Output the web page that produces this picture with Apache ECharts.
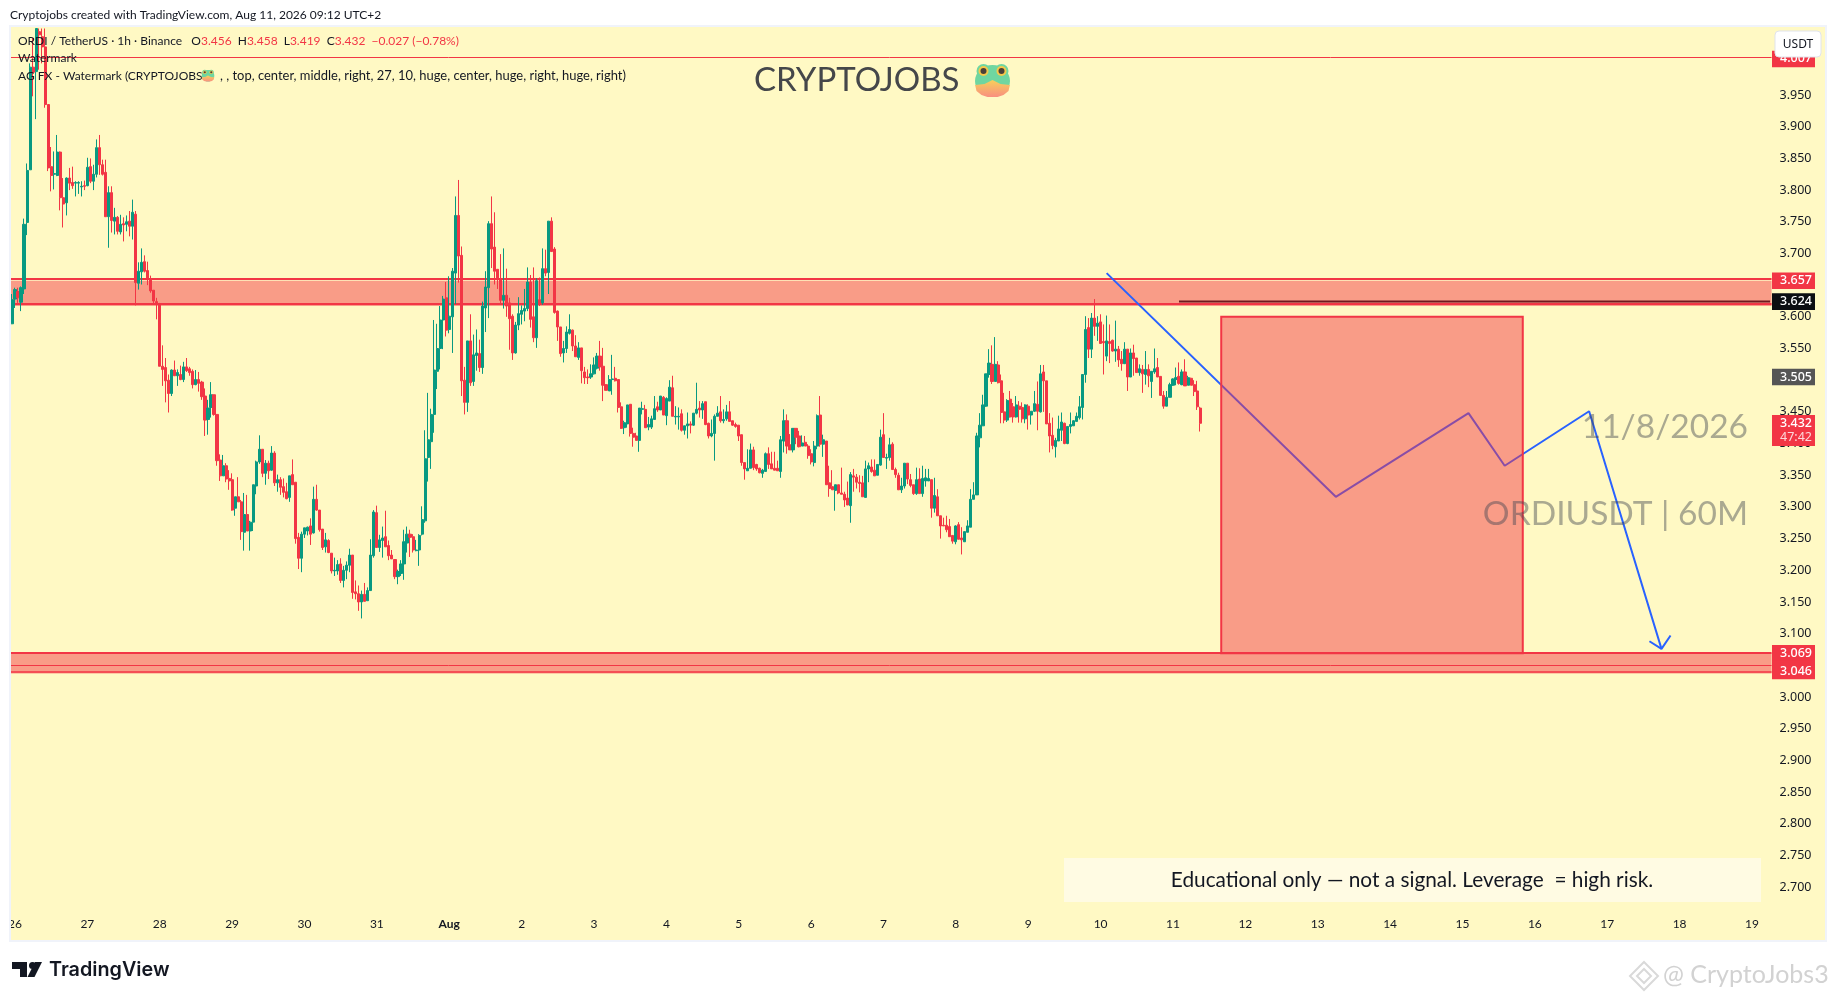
<!DOCTYPE html>
<html><head><meta charset="utf-8"><title>ORDIUSDT</title>
<style>html,body{margin:0;padding:0;background:#fff}#c{width:1835px;height:1000px}</style>
<script src="https://cdn.jsdelivr.net/npm/echarts@6/dist/echarts.min.js"></script></head><body><div id="c"></div>
<script>
// hourly candles as [open, high, low, close]
const jul25=[[3.589,3.636,3.589,3.627]];
const jul26=[[3.628,3.646,3.614,3.643],[3.640,3.646,3.622,3.630],[3.623,3.648,3.609,3.646],[3.644,3.755,3.636,3.746],[3.749,3.842,3.729,3.831],[3.832,4.000,3.832,3.994],[3.994,4.040,3.948,3.986],[3.987,4.055,3.912,4.055],[4.050,4.055,3.990,4.045],[4.042,4.055,4.000,4.026],[4.026,4.055,3.930,3.935],[3.935,3.935,3.830,3.835],[3.837,3.868,3.798,3.823],[3.825,3.861,3.801,3.826],[3.823,3.887,3.822,3.860],[3.860,3.861,3.768,3.788],[3.788,3.819,3.741,3.778],[3.780,3.820,3.760,3.819],[3.819,3.835,3.800,3.811],[3.812,3.837,3.802,3.807],[3.811,3.814,3.790,3.812],[3.811,3.814,3.794,3.812],[3.805,3.814,3.790,3.806],[3.807,3.815,3.800,3.806]];
const jul27=[[3.807,3.851,3.806,3.836],[3.837,3.850,3.811,3.814],[3.814,3.840,3.800,3.825],[3.825,3.880,3.820,3.867],[3.867,3.887,3.824,3.840],[3.840,3.848,3.823,3.825],[3.828,3.848,3.758,3.758],[3.758,3.806,3.709,3.796],[3.796,3.806,3.733,3.752],[3.751,3.772,3.730,3.757],[3.757,3.759,3.730,3.735],[3.734,3.761,3.730,3.746],[3.747,3.757,3.719,3.745],[3.746,3.760,3.735,3.750],[3.751,3.767,3.727,3.743],[3.743,3.785,3.722,3.765],[3.762,3.767,3.618,3.654],[3.653,3.686,3.643,3.672],[3.671,3.708,3.651,3.686],[3.687,3.697,3.670,3.672],[3.673,3.687,3.650,3.659],[3.658,3.665,3.638,3.641],[3.642,3.642,3.620,3.625],[3.624,3.630,3.596,3.620]];
const jul28=[[3.620,3.622,3.522,3.522],[3.522,3.555,3.491,3.517],[3.520,3.535,3.465,3.499],[3.500,3.509,3.449,3.479],[3.479,3.517,3.475,3.516],[3.516,3.531,3.507,3.507],[3.507,3.517,3.491,3.512],[3.509,3.523,3.500,3.501],[3.501,3.529,3.497,3.521],[3.521,3.535,3.513,3.515],[3.518,3.521,3.507,3.512],[3.514,3.517,3.487,3.493],[3.493,3.516,3.492,3.501],[3.501,3.513,3.482,3.495],[3.497,3.499,3.469,3.474],[3.475,3.487,3.412,3.437],[3.438,3.469,3.414,3.456],[3.457,3.497,3.441,3.477],[3.477,3.477,3.444,3.446],[3.446,3.446,3.365,3.373],[3.374,3.383,3.341,3.349],[3.349,3.382,3.349,3.365],[3.365,3.369,3.339,3.344],[3.345,3.358,3.327,3.341]];
const jul29=[[3.343,3.353,3.294,3.295],[3.298,3.316,3.286,3.316],[3.316,3.347,3.308,3.308],[3.308,3.311,3.248,3.261],[3.260,3.322,3.231,3.288],[3.288,3.319,3.262,3.262],[3.262,3.278,3.231,3.276],[3.276,3.335,3.262,3.335],[3.333,3.373,3.320,3.371],[3.371,3.413,3.368,3.391],[3.391,3.391,3.347,3.353],[3.353,3.374,3.335,3.369],[3.369,3.373,3.344,3.357],[3.358,3.396,3.357,3.385],[3.385,3.388,3.333,3.338],[3.338,3.351,3.324,3.343],[3.343,3.347,3.319,3.331],[3.332,3.345,3.315,3.323],[3.324,3.338,3.312,3.313],[3.315,3.349,3.308,3.349],[3.351,3.375,3.335,3.335],[3.339,3.339,3.242,3.250],[3.252,3.259,3.202,3.219],[3.219,3.261,3.197,3.257]];
const jul30=[[3.257,3.267,3.251,3.267],[3.262,3.269,3.255,3.268],[3.270,3.282,3.240,3.257],[3.259,3.332,3.258,3.312],[3.312,3.335,3.294,3.295],[3.295,3.295,3.261,3.264],[3.265,3.265,3.232,3.236],[3.237,3.259,3.228,3.248],[3.247,3.249,3.227,3.228],[3.227,3.227,3.195,3.199],[3.199,3.220,3.191,3.200],[3.199,3.216,3.193,3.209],[3.210,3.219,3.180,3.184],[3.184,3.207,3.173,3.200],[3.200,3.214,3.186,3.208],[3.208,3.234,3.197,3.224],[3.224,3.224,3.155,3.165],[3.166,3.184,3.154,3.163],[3.163,3.176,3.136,3.150],[3.150,3.168,3.124,3.162],[3.162,3.180,3.151,3.151],[3.152,3.173,3.152,3.168],[3.168,3.249,3.168,3.224],[3.223,3.295,3.220,3.292]];
const jul31=[[3.291,3.302,3.236,3.236],[3.236,3.256,3.229,3.248],[3.247,3.269,3.220,3.251],[3.253,3.294,3.237,3.237],[3.239,3.247,3.216,3.223],[3.224,3.232,3.218,3.218],[3.217,3.217,3.186,3.190],[3.190,3.201,3.178,3.198],[3.195,3.216,3.191,3.210],[3.210,3.264,3.185,3.245],[3.243,3.269,3.228,3.257],[3.257,3.264,3.221,3.252],[3.253,3.257,3.228,3.232],[3.231,3.248,3.230,3.232],[3.232,3.257,3.207,3.255],[3.257,3.301,3.255,3.280],[3.278,3.421,3.275,3.376],[3.378,3.480,3.340,3.406],[3.403,3.455,3.360,3.446],[3.446,3.595,3.417,3.516],[3.514,3.589,3.486,3.550],[3.550,3.617,3.517,3.595],[3.595,3.633,3.549,3.628],[3.630,3.655,3.569,3.579]];
const aug1=[[3.580,3.664,3.574,3.601],[3.600,3.677,3.543,3.672],[3.669,3.790,3.620,3.760],[3.760,3.816,3.654,3.696],[3.697,3.711,3.475,3.499],[3.500,3.521,3.446,3.465],[3.465,3.562,3.450,3.562],[3.562,3.604,3.491,3.496],[3.498,3.572,3.491,3.540],[3.539,3.580,3.515,3.543],[3.542,3.564,3.513,3.520],[3.520,3.624,3.510,3.617],[3.614,3.672,3.576,3.647],[3.646,3.751,3.598,3.747],[3.747,3.790,3.677,3.707],[3.710,3.765,3.651,3.672],[3.675,3.675,3.644,3.659],[3.659,3.699,3.619,3.626],[3.626,3.708,3.613,3.634],[3.634,3.676,3.600,3.617],[3.622,3.630,3.548,3.597],[3.601,3.604,3.532,3.543],[3.543,3.592,3.542,3.587],[3.587,3.631,3.579,3.605]];
const aug2=[[3.604,3.618,3.588,3.610],[3.609,3.644,3.593,3.613],[3.613,3.678,3.609,3.655],[3.655,3.666,3.583,3.596],[3.600,3.678,3.560,3.567],[3.567,3.661,3.551,3.657],[3.627,3.662,3.617,3.620],[3.622,3.708,3.619,3.676],[3.676,3.706,3.664,3.669],[3.670,3.751,3.636,3.751],[3.751,3.757,3.703,3.703],[3.707,3.710,3.605,3.607],[3.609,3.610,3.562,3.584],[3.584,3.584,3.537,3.542],[3.543,3.562,3.528,3.550],[3.550,3.585,3.543,3.576],[3.574,3.604,3.572,3.580],[3.579,3.580,3.546,3.554],[3.554,3.571,3.537,3.537],[3.536,3.560,3.532,3.551],[3.551,3.551,3.495,3.515],[3.513,3.521,3.494,3.504],[3.505,3.517,3.494,3.504],[3.505,3.525,3.502,3.510]];
const aug3=[[3.510,3.536,3.509,3.524],[3.519,3.543,3.517,3.538],[3.538,3.562,3.515,3.521],[3.522,3.551,3.467,3.492],[3.493,3.493,3.484,3.484],[3.483,3.508,3.483,3.501],[3.501,3.540,3.477,3.502],[3.503,3.521,3.498,3.499],[3.501,3.501,3.449,3.457],[3.458,3.465,3.423,3.424],[3.425,3.436,3.415,3.433],[3.431,3.461,3.425,3.461],[3.462,3.462,3.411,3.416],[3.416,3.425,3.395,3.410],[3.412,3.417,3.405,3.405],[3.405,3.456,3.387,3.456],[3.454,3.466,3.446,3.455],[3.454,3.461,3.425,3.425],[3.426,3.442,3.421,3.430],[3.426,3.444,3.423,3.439],[3.438,3.475,3.438,3.455],[3.458,3.466,3.450,3.453],[3.453,3.475,3.453,3.475],[3.473,3.475,3.445,3.445]];
const aug4=[[3.444,3.473,3.429,3.471],[3.467,3.500,3.467,3.489],[3.488,3.507,3.443,3.443],[3.442,3.459,3.430,3.443],[3.442,3.457,3.422,3.443],[3.447,3.454,3.419,3.421],[3.421,3.428,3.414,3.428],[3.428,3.449,3.408,3.431],[3.431,3.435,3.416,3.429],[3.429,3.448,3.428,3.448],[3.448,3.496,3.446,3.454],[3.456,3.467,3.441,3.453],[3.453,3.467,3.439,3.463],[3.466,3.466,3.429,3.430],[3.432,3.433,3.408,3.412],[3.412,3.438,3.410,3.416],[3.416,3.446,3.373,3.443],[3.443,3.459,3.443,3.448],[3.450,3.475,3.433,3.436],[3.436,3.454,3.432,3.438],[3.439,3.461,3.436,3.450],[3.450,3.467,3.435,3.435],[3.436,3.436,3.428,3.429],[3.430,3.433,3.425,3.427]];
const aug5=[[3.429,3.429,3.404,3.412],[3.414,3.414,3.365,3.370],[3.370,3.370,3.343,3.360],[3.357,3.391,3.357,3.361],[3.361,3.400,3.361,3.390],[3.390,3.395,3.358,3.362],[3.367,3.368,3.357,3.360],[3.361,3.362,3.353,3.354],[3.353,3.360,3.346,3.358],[3.356,3.386,3.356,3.384],[3.384,3.394,3.360,3.367],[3.368,3.387,3.360,3.360],[3.361,3.387,3.358,3.358],[3.361,3.373,3.357,3.357],[3.356,3.412,3.346,3.406],[3.404,3.454,3.386,3.436],[3.436,3.446,3.384,3.396],[3.398,3.415,3.390,3.390],[3.390,3.424,3.386,3.424],[3.424,3.424,3.399,3.410],[3.412,3.420,3.394,3.395],[3.396,3.413,3.396,3.401],[3.402,3.412,3.396,3.396],[3.396,3.399,3.376,3.381]];
const aug6=[[3.384,3.391,3.367,3.371],[3.370,3.404,3.364,3.396],[3.396,3.446,3.391,3.444],[3.445,3.475,3.395,3.399],[3.399,3.414,3.379,3.406],[3.404,3.404,3.335,3.335],[3.338,3.365,3.316,3.329],[3.332,3.358,3.327,3.327],[3.326,3.335,3.294,3.335],[3.335,3.335,3.320,3.322],[3.322,3.362,3.320,3.320],[3.320,3.324,3.300,3.311],[3.314,3.340,3.303,3.303],[3.302,3.355,3.275,3.351],[3.349,3.360,3.324,3.347],[3.347,3.352,3.329,3.339],[3.339,3.350,3.323,3.337],[3.338,3.349,3.316,3.316],[3.315,3.373,3.315,3.360],[3.360,3.370,3.339,3.365],[3.363,3.375,3.354,3.356],[3.358,3.375,3.349,3.349],[3.350,3.367,3.350,3.367],[3.366,3.422,3.365,3.410]];
const aug7=[[3.414,3.448,3.378,3.378],[3.377,3.384,3.360,3.378],[3.378,3.409,3.373,3.398],[3.399,3.402,3.359,3.359],[3.359,3.362,3.346,3.351],[3.350,3.354,3.327,3.327],[3.327,3.346,3.322,3.333],[3.333,3.369,3.329,3.369],[3.369,3.369,3.336,3.344],[3.343,3.352,3.331,3.334],[3.335,3.335,3.319,3.321],[3.321,3.362,3.319,3.343],[3.344,3.361,3.321,3.321],[3.321,3.365,3.316,3.345],[3.341,3.360,3.332,3.346],[3.341,3.360,3.341,3.345],[3.343,3.343,3.283,3.298],[3.298,3.346,3.291,3.318],[3.316,3.328,3.286,3.286],[3.286,3.286,3.250,3.270],[3.271,3.283,3.270,3.270],[3.271,3.286,3.260,3.264],[3.269,3.281,3.253,3.253],[3.255,3.255,3.242,3.246]];
const aug8=[[3.245,3.271,3.241,3.270],[3.272,3.276,3.249,3.249],[3.251,3.268,3.225,3.248],[3.245,3.261,3.245,3.261],[3.260,3.279,3.260,3.270],[3.268,3.328,3.268,3.312],[3.312,3.339,3.312,3.319],[3.319,3.417,3.319,3.412],[3.409,3.448,3.394,3.429],[3.428,3.477,3.428,3.461],[3.459,3.510,3.458,3.510],[3.509,3.549,3.504,3.527],[3.525,3.555,3.494,3.498],[3.498,3.568,3.498,3.525],[3.524,3.530,3.495,3.496],[3.499,3.509,3.432,3.449],[3.450,3.480,3.432,3.437],[3.437,3.470,3.434,3.468],[3.470,3.483,3.441,3.442],[3.458,3.464,3.433,3.442],[3.442,3.475,3.441,3.461],[3.459,3.467,3.433,3.454],[3.457,3.465,3.433,3.439],[3.439,3.462,3.432,3.461]];
const aug9=[[3.459,3.462,3.422,3.445],[3.445,3.451,3.430,3.451],[3.451,3.483,3.450,3.463],[3.462,3.498,3.421,3.451],[3.450,3.524,3.449,3.510],[3.513,3.524,3.450,3.499],[3.499,3.499,3.431,3.431],[3.432,3.448,3.386,3.412],[3.413,3.441,3.391,3.397],[3.395,3.409,3.378,3.405],[3.404,3.444,3.404,3.423],[3.421,3.449,3.404,3.434],[3.432,3.433,3.399,3.400],[3.400,3.427,3.399,3.427],[3.427,3.449,3.416,3.430],[3.428,3.437,3.428,3.436],[3.435,3.449,3.435,3.443],[3.441,3.475,3.438,3.458],[3.457,3.509,3.438,3.509],[3.509,3.601,3.496,3.580],[3.583,3.598,3.535,3.549],[3.549,3.606,3.535,3.598],[3.598,3.628,3.570,3.585],[3.585,3.601,3.562,3.590]];
const aug10=[[3.592,3.604,3.558,3.558],[3.561,3.588,3.509,3.559],[3.538,3.602,3.530,3.562],[3.561,3.588,3.527,3.558],[3.563,3.564,3.545,3.546],[3.546,3.594,3.529,3.549],[3.549,3.554,3.521,3.532],[3.533,3.546,3.515,3.526],[3.526,3.560,3.526,3.549],[3.549,3.549,3.483,3.505],[3.505,3.550,3.505,3.543],[3.543,3.556,3.507,3.534],[3.535,3.535,3.512,3.512],[3.512,3.525,3.507,3.518],[3.517,3.524,3.480,3.510],[3.509,3.546,3.493,3.517],[3.517,3.525,3.489,3.507],[3.498,3.514,3.472,3.514],[3.513,3.550,3.510,3.518],[3.520,3.535,3.505,3.505],[3.506,3.506,3.476,3.476],[3.476,3.483,3.455,3.459],[3.459,3.483,3.459,3.473],[3.473,3.496,3.473,3.493]];
const aug11=[[3.492,3.503,3.491,3.502],[3.501,3.520,3.492,3.504],[3.506,3.528,3.493,3.495],[3.493,3.517,3.492,3.513],[3.513,3.533,3.491,3.491],[3.492,3.507,3.492,3.504],[3.503,3.504,3.492,3.492],[3.493,3.500,3.475,3.482],[3.483,3.499,3.453,3.458],[3.456,3.458,3.419,3.432]];
const dayLabels=['26','27','28','29','30','31','Aug','2','3','4','5','6','7','8','9','10','11','12','13','14','15','16','17','18','19'];
const yLabelMin=2.7, yLabelMax=3.95;
const resistanceZone=[3.657,3.617];
const supportZone=[3.069,3.037];
const supportLine=3.046;
const highLine=4.007;
const shortBox={from:402,to:502,top:3.60,bottom:3.069};
const projection=[[364,3.669],[440,3.316],[484,3.448],[496,3.365],[524,3.451],[548,3.076]];
const arrowHead=[[544,3.088],[548,3.076],[551,3.097]];
const blackSegment=[[388,3.624],[584,3.624]];
const tagPrices=[4.007,3.657,3.624,3.505,3.432,3.069,3.046];
const tagTexts=['4.007','3.657','3.624','3.505','3.432','3.069','3.046'];
const tagFills=['#F23645','#F23645','#0C0E12','#555555','#F23645','#F23645','#F23645'];

const F='Lato, "Noto Sans", sans-serif';
const RED='#F23645', GREEN='#089981', BLUE='#2962FF';
const all=[].concat(jul25,jul26,jul27,jul28,jul29,jul30,jul31,aug1,aug2,aug3,aug4,aug5,aug6,aug7,aug8,aug9,aug10,aug11);
const N=585;
const categories=[];
for(let i=0;i<N;i++){categories.push((i-2)%24===0&&i>=2?dayLabels[(i-2)/24]:'');}
const candleData=[null].concat(all).map(r=>r?[r[0],r[3],r[2],r[1]]:'-');
const lastIdx=all.length;

function frog(cx,cy,s,z){
  return {type:'group',x:cx,y:cy,scaleX:s,scaleY:s,z:z,children:[
    {type:'ellipse',z:z,shape:{cx:0,cy:1,rx:17.5,ry:16},style:{fill:'#6FD6A0'}},
    {type:'circle',z:z,shape:{cx:-9,cy:-9,r:7},style:{fill:'#6FD6A0'}},
    {type:'circle',z:z,shape:{cx:9,cy:-9,r:7},style:{fill:'#6FD6A0'}},
    {type:'circle',z:z,shape:{cx:-9,cy:-9,r:5},style:{fill:'#F5C84B'}},
    {type:'circle',z:z,shape:{cx:9,cy:-9,r:5},style:{fill:'#F5C84B'}},
    {type:'circle',z:z,shape:{cx:-9,cy:-9,r:3},style:{fill:'#4A4038'}},
    {type:'circle',z:z,shape:{cx:9,cy:-9,r:3},style:{fill:'#4A4038'}},
    {type:'polygon',z:z,shape:{points:[[-17.4,5],[-8,4],[0,0],[8,4],[17.4,5],[16,11],[11,15],[5,17],[-5,17],[-11,15],[-16,11]]},
      style:{fill:{type:'linear',x:0,y:0,x2:0,y2:1,colorStops:[{offset:0,color:'#F7D05A'},{offset:1,color:'#F98F80'}]}}}
  ]};
}
const chart=echarts.init(document.getElementById('c'),null,{renderer:'canvas',width:1835,height:1000});
chart.setOption({
  animation:false,backgroundColor:'#FFFFFF',
  grid:{left:7.46,top:-1.72,width:1764.1,height:952.2,containLabel:false},
  xAxis:{type:'category',data:categories,boundaryGap:true,axisLine:{show:false},axisTick:{show:false},splitLine:{show:false},
    axisLabel:{interval:(i,v)=>v!=='',margin:-32,fontFamily:F,fontSize:12,color:'#131722',hideOverlap:false,showMinLabel:true,showMaxLabel:true,
      formatter:v=>v==='Aug'?'{b|Aug}':v,rich:{b:{fontWeight:'bold',fontSize:12,fontFamily:F,color:'#131722'}}}},
  yAxis:{type:'value',position:'right',min:2.6,max:4.1,interval:0.05,axisLine:{show:false},axisTick:{show:false},splitLine:{show:false},
    axisLabel:{margin:8,padding:[0,0,2,0],fontFamily:'"Noto Sans",sans-serif',fontSize:12.5,color:'#131722',showMinLabel:true,showMaxLabel:true,
      formatter:v=>(v>=yLabelMin-1e-6&&v<=yLabelMax+1e-6)?v.toFixed(3):''}},
  series:[
    {type:'candlestick',name:'ORDIUSDT',z:2,data:candleData,barWidth:2.6,silent:true,
      itemStyle:{color:GREEN,color0:RED,borderColor:GREEN,borderColor0:RED,borderColorDoji:GREEN,borderWidth:1},
      markArea:{z:1,silent:true,itemStyle:{color:'rgba(242,54,69,0.48)',borderWidth:0},
        data:[[{yAxis:resistanceZone[0]},{yAxis:resistanceZone[1]}],[{yAxis:supportZone[0]},{yAxis:supportZone[1]}]]},
      markLine:{z:1,silent:true,symbol:'none',label:{show:false},animation:false,
        data:[{yAxis:resistanceZone[0],lineStyle:{color:RED,width:2,type:'solid'}},{yAxis:resistanceZone[1],lineStyle:{color:RED,width:2,type:'solid'}},
              {yAxis:supportZone[0],lineStyle:{color:RED,width:2,type:'solid'}},{yAxis:supportZone[1],lineStyle:{color:RED,width:1.5,type:'solid'}},
              {yAxis:supportLine,lineStyle:{color:RED,width:1,type:'solid'}},{yAxis:highLine,lineStyle:{color:RED,width:1,type:'solid'}}]}},
    {type:'line',name:'blackLine',z:3,data:blackSegment,symbol:'none',silent:true,lineStyle:{color:'#6E1A20',width:2}},
    {type:'line',name:'projection',z:3,data:projection,symbol:'none',silent:true,lineStyle:{color:BLUE,width:2},
      markArea:{z:4,silent:true,itemStyle:{color:'rgba(242,54,69,0.48)',borderColor:RED,borderWidth:2},
        data:[[{xAxis:shortBox.from,yAxis:shortBox.top},{xAxis:shortBox.to,yAxis:shortBox.bottom}]]}},
    {type:'line',name:'arrow',z:3,data:arrowHead,symbol:'none',silent:true,lineStyle:{color:BLUE,width:2}},
    {type:'custom',name:'priceTags',z:60,silent:true,clip:false,data:tagPrices.map(p=>[lastIdx,p]),encode:{x:0,y:1},
      renderItem(params,api){
        const i=params.dataIndex, y=api.coord([api.value(0),api.value(1)])[1];
        const isLast=tagTexts[i]==='3.432', low=tagTexts[i]==='3.046';
        const textDy=low?3.2:0;
        const top=low?y-7:y-8.3;
        const h=isLast?31:(low?18.3:16.6);
        const kids=[{type:'rect',shape:{x:1772,y:top,width:43,height:h},style:{fill:tagFills[i]}},
          {type:'text',style:{text:tagTexts[i],x:1780,y:y+textDy,fill:'#FFFFFF',fontSize:12.5,fontFamily:'"Noto Sans",sans-serif',fontWeight:500,align:'left',verticalAlign:'middle'}}];
        if(isLast)kids.push({type:'text',style:{text:'47:42',x:1780,y:y+14,fill:'rgba(255,255,255,0.8)',fontSize:12.5,fontFamily:'"Noto Sans",sans-serif',align:'left',verticalAlign:'middle'}});
        return {type:'group',children:kids};
      }}
  ],
  graphic:{elements:[
    {type:'rect',z:-10,shape:{x:9,y:26,width:1817,height:915},style:{fill:'#FFF9C4',stroke:'#F0F3FA',lineWidth:2}},
    {type:'rect',z:100,shape:{x:0,y:0,width:9,height:1000},style:{fill:'#FFFFFF'}},
    {type:'rect',z:100,shape:{x:9,y:26,width:2,height:915},style:{fill:'#F0F3FA'}},
    {type:'text',z:100,x:10,y:15,style:{text:'Cryptojobs created with TradingView.com, Aug 11, 2026 09:12 UTC+2',fontFamily:F,fontSize:12,fill:'#131722',verticalAlign:'middle'}},
    {type:'text',z:50,x:18,y:41,style:{text:'ORDI / TetherUS · 1h · Binance   O{r|3.456}  H{r|3.458}  L{r|3.419}  C{r|3.432}  {r|−0.027 (−0.78%)}',fontFamily:F,fontSize:12,fill:'#131722',verticalAlign:'middle',rich:{r:{fill:RED,color:RED,fontFamily:F,fontSize:12}}}},
    {type:'text',z:50,x:18,y:58,style:{text:'Watermark',fontFamily:F,fontSize:12,fill:'#131722',verticalAlign:'middle'}},
    {type:'text',z:50,x:18,y:76,style:{text:'AG FX - Watermark (CRYPTOJOBS',fontFamily:F,fontSize:12,fill:'#131722',verticalAlign:'middle'}},
    frog(208,75.5,0.36,50),
    {type:'text',z:50,x:220,y:76,style:{text:', , top, center, middle, right, 27, 10, huge, center, huge, right, huge, right)',fontFamily:F,fontSize:12.95,fill:'#131722',verticalAlign:'middle'}},
    {type:'text',z:10,x:754,y:80,style:{text:'CRYPTOJOBS',fontFamily:F,fontSize:33,fill:'#45474A',verticalAlign:'middle'}},
    frog(992.5,80,1,10),
    {type:'text',z:10,x:1748,y:427,style:{text:'11/8/2026',fontFamily:F,fontSize:33.5,fill:'rgba(67,70,81,0.45)',align:'right',verticalAlign:'middle'}},
    {type:'text',z:10,x:1748,y:514,style:{text:'ORDIUSDT | 60M',fontFamily:F,fontSize:33.5,fill:'rgba(67,70,81,0.45)',align:'right',verticalAlign:'middle'}},
    {type:'rect',z:8,shape:{x:1064,y:858,width:697,height:44},style:{fill:'#FFFBE3'}},
    {type:'text',z:10,x:1412,y:880,style:{text:'Educational only — not a signal. Leverage  = high risk.',fontFamily:F,fontSize:20.8,fill:'#131722',align:'center',verticalAlign:'middle'}},
    {type:'rect',z:100,shape:{x:1775,y:31,width:46,height:26,r:4},style:{fill:'#FFFFFF',stroke:'#E0E3EB',lineWidth:1}},
    {type:'text',z:101,x:1798,y:44.5,style:{text:'USDT',fontFamily:'"Noto Sans",sans-serif',fontSize:12,fill:'#131722',align:'center',verticalAlign:'middle'}},
    {type:'polygon',z:100,shape:{points:[[12,962],[27,962],[27,977],[20,977],[20,969],[12,969]]},style:{fill:'#131722'}},
    {type:'polygon',z:100,shape:{points:[[27.5,977],[35,962],[42,962],[34.5,977]]},style:{fill:'#131722'}},
    {type:'circle',z:100,shape:{cx:32.5,cy:965.5,r:3.5},style:{fill:'#131722'}},
    {type:'text',z:100,x:49,y:970,style:{text:'TradingView',fontFamily:'Inter, sans-serif',fontWeight:600,fontSize:19.8,fill:'#131722',verticalAlign:'middle'}},
    {type:'polygon',z:100,shape:{points:[[1644,962],[1658,976],[1644,990],[1630,976]]},style:{fill:'none',stroke:'#D9D9D9',lineWidth:2}},
    {type:'polygon',z:100,shape:{points:[[1644,969],[1651,976],[1644,983],[1637,976]]},style:{fill:'none',stroke:'#D9D9D9',lineWidth:2}},
    {type:'text',z:100,x:1663,y:975,style:{text:'@ CryptoJobs3',fontFamily:F,fontSize:25,fill:'#D2D2D2',verticalAlign:'middle'}}
  ]}
});
</script></body></html>
